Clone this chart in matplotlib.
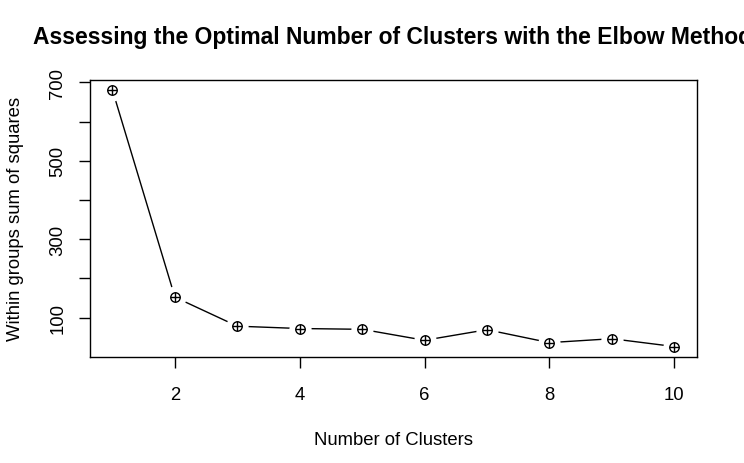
import matplotlib.pyplot as plt

plt.rcParams['font.family'] = ['Liberation Sans', 'DejaVu Sans']

# values
clusters = [1, 2, 3, 4, 5, 6, 7, 8, 9, 10]
wss = [680, 152, 78, 72, 70, 42, 69, 36, 46, 26]
ytick_vals = [100, 200, 300, 400, 500, 600, 700]
ytick_labels = ['100', '', '300', '', '500', '', '700']
xtick_vals = [2, 4, 6, 8, 10]

fig = plt.figure(figsize=(7.44, 4.64), dpi=100)
ax = fig.add_axes([0.121, 0.229, 0.8154, 0.5964])

# line with gaps around points (like R type="b")
ax.plot(clusters, wss, color='black', lw=1, zorder=1)
ax.plot(clusters, wss, ls='none', marker='o', ms=16, mfc='white', mec='none', zorder=2)
ax.plot(clusters, wss, ls='none', marker='o', ms=6.8, mfc='none', mec='black', mew=1, zorder=3)
ax.plot(clusters, wss, ls='none', marker='+', ms=7, mec='black', mew=1, zorder=3)

ax.set_xlim(0.64, 10.36)
ax.set_ylim(0, 706)
ax.set_xticks(xtick_vals)
ax.set_yticks(ytick_vals)
ax.set_yticklabels(ytick_labels, rotation=90, va='center')
ax.tick_params(direction='out', length=8, width=1, labelsize=13.3)
ax.tick_params(axis='x', pad=13)
ax.tick_params(axis='y', pad=9)
for s in ax.spines.values():
    s.set_linewidth(1)
    s.set_zorder(5)

ax.set_xlabel('Number of Clusters', fontsize=13.3, labelpad=20)
ax.set_ylabel('Within groups sum of squares', fontsize=13.3, labelpad=18)

fig.text(0.527, 0.92, 'Assessing the Optimal Number of Clusters with the Elbow Method',
         ha='center', va='center', fontsize=16.5, fontweight='bold')

fig.savefig('out.png', dpi=100)
